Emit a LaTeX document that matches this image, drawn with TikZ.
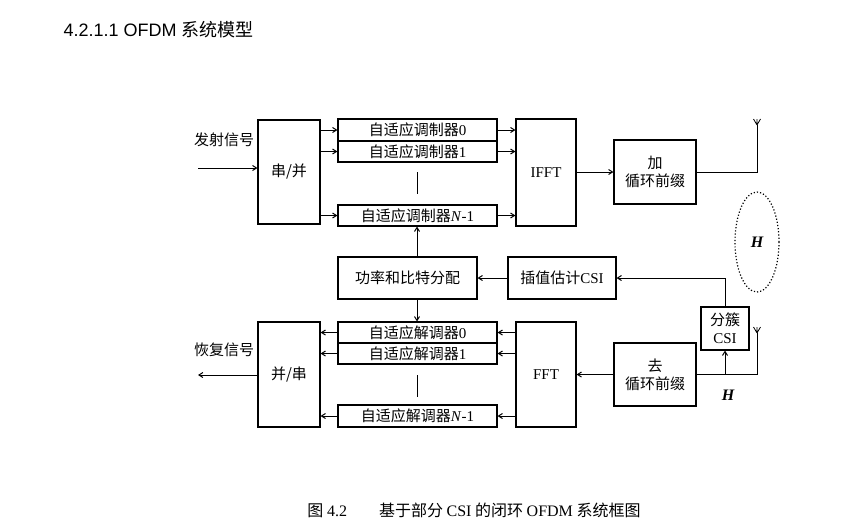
\documentclass[tikz,border=0pt]{standalone}
\usepackage{fontspec}
\setmainfont{Liberation Serif}
\newfontfamily\cjk{Noto Sans CJK SC}
\newfontfamily\titlef{Liberation Sans}
\usetikzlibrary{arrows.meta,shapes.geometric}
\newcommand{\rl}[1]{{\rmfamily #1}}
\begin{document}
\begin{tikzpicture}[x=1pt,y=-1pt,
  bx/.style={draw,line width=1.1pt,inner sep=0pt,font=\cjk\fontsize{15}{18}\selectfont,align=center},
  ar/.style={-{Straight Barb[length=4pt,width=5pt]},line width=1pt},
  ln/.style={line width=1pt}]
\useasboundingbox (0,0) rectangle (859,528);
\node[anchor=west,font=\titlef\fontsize{18}{20}\selectfont] (title) at (60,30) {4.2.1.1 OFDM {\cjk 系统模型}};
% boxes
\newcommand{\bxat}[5]{\node[bx,minimum width=#4-#2,minimum height=#5-#3] (#1) at ({(#2+#4)/2},{(#3+#5)/2})}
\bxat{sp}{258}{120}{320}{224} {串/并};
\bxat{m0}{338}{119}{497}{141} {自适应调制器\rl{0}};
\bxat{m1}{338}{141}{497}{162} {自适应调制器\rl{1}};
\bxat{mn}{338}{205}{497}{226} {自适应调制器\rl{\textit{N}-1}};
\bxat{ifft}{516}{119}{576}{226} {\rl{IFFT}};
\bxat{acp}{614}{140}{696}{204} {加\\循环前缀};
\bxat{pw}{338}{257}{477}{299} {功率和比特分配};
\bxat{est}{508}{257}{616}{299} {插值估计\rl{CSI}};
\bxat{cl}{701}{307}{749}{350} {分簇\\\rl{CSI}};
\bxat{rcp}{614}{343}{696}{406} {去\\循环前缀};
\bxat{fft}{516}{322}{576}{427} {\rl{FFT}};
\bxat{d0}{338}{322}{497}{343} {自适应解调器\rl{0}};
\bxat{d1}{338}{343}{497}{364} {自适应解调器\rl{1}};
\bxat{dn}{338}{405}{497}{427} {自适应解调器\rl{\textit{N}-1}};
\bxat{ps}{258}{322}{320}{427} {并/串};
% labels
\node[font=\cjk\fontsize{15}{18}\selectfont] (tx) at (224,140) {发射信号};
\node[font=\cjk\fontsize{15}{18}\selectfont] (rx) at (224,350) {恢复信号};
\coordinate (txin) at (198,168);
\coordinate (rxout) at (198,375);
\draw[ar] (txin) -- (txin -| sp.west);
\draw[ar] (ps.west |- rxout) -- (rxout);
% tx arrows
\foreach \m in {m0,m1,mn}{
  \draw[ar] (sp.east |- \m) -- (\m.west);
  \draw[ar] (\m.east) -- (ifft.west |- \m);
}
\foreach \d in {d0,d1,dn}{
  \draw[ar] (fft.west |- \d) -- (\d.east);
  \draw[ar] (\d.west) -- (ps.east |- \d);
}
\coordinate (dt1) at (417,172); \coordinate (dt2) at (417,194);
\draw[line width=0.6pt] (dt1) -- (dt2);
\coordinate (dr1) at (417,375); \coordinate (dr2) at (417,397);
\draw[line width=0.6pt] (dr1) -- (dr2);
\draw[ar] (ifft.east |- acp) -- (acp.west);
\draw[ar] (rcp.west) -- (fft.east |- rcp);
\draw[ar] (pw.north -| 417,0) -- (mn.south -| 417,0);
\draw[ar] (pw.south -| 417,0) -- (d0.north -| 417,0);
\draw[ar] (est.west) -- (pw.east);
\draw[ar] (cl.north) |- (est.east);
% antennas
\coordinate (a1) at (757,125); \coordinate (a2) at (757,333);
\draw[ln] (acp.east) -| (a1);
\draw[ln] (rcp.east) -| (a2);
\draw[ar] (cl.south |- rcp.east) -- (cl.south);
\foreach \a in {a1,a2}{
  \draw[line width=0.8pt] (\a) -- ++(-3.5,-6) (\a) -- ++(3.5,-6) (\a) -- ++(0,-6);
}
\node[draw,dotted,line width=1.2pt,ellipse,minimum width=44pt,minimum height=100pt] (el) at (757,242) {};
\node[font=\bfseries\itshape\fontsize{16}{18}\selectfont] (h1) at (757,242) {H};
\node[font=\bfseries\itshape\fontsize{16}{18}\selectfont] (h2) at (728,395) {H};
\node[font=\cjk\fontsize{16}{18}\selectfont] (cap) at (474,510) {图 \rl{4.2}\hspace{2em}基于部分 \rl{CSI} 的闭环 \rl{OFDM} 系统框图};
\end{tikzpicture}
\end{document}
